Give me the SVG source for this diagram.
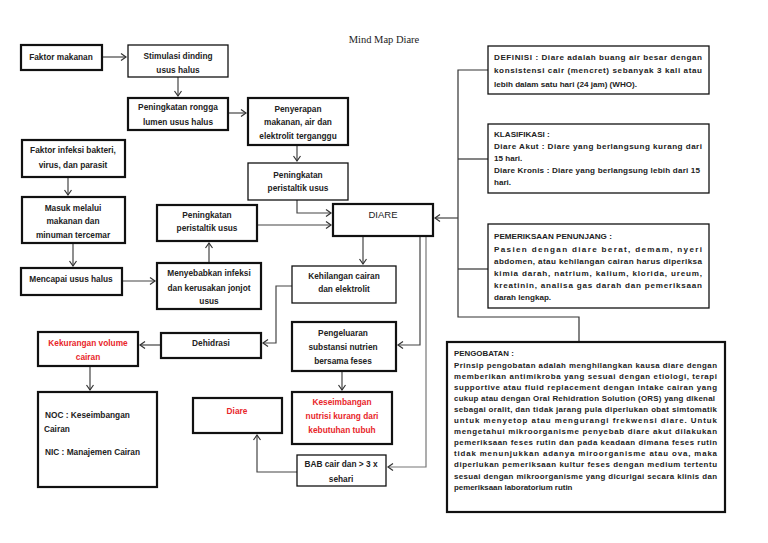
<svg xmlns="http://www.w3.org/2000/svg" width="768" height="543" viewBox="0 0 768 543">
<style>
.bx{fill:#fff;stroke:#111;stroke-width:1.3}
.tk{stroke-width:2.2}
.t{font-family:"Liberation Sans",Arial,sans-serif;font-size:8.3px;font-weight:bold;fill:#222;text-anchor:middle}
.r{fill:#e8262a}
.p{font-family:"Liberation Sans",Arial,sans-serif;font-size:8.1px;font-weight:bold;fill:#222}
.q{font-family:"Liberation Sans",Arial,sans-serif;font-size:7.9px;font-weight:bold;fill:#222}
.c{fill:none;stroke:#444;stroke-width:1.2;marker-end:url(#ah)}
.l{fill:none;stroke:#333;stroke-width:1.2}
</style>
<defs>
<marker id="ah" markerUnits="userSpaceOnUse" markerWidth="8" markerHeight="8" refX="6" refY="4" orient="auto">
<path d="M1,0.5 L6,4 L1,7.5" fill="none" stroke="#333" stroke-width="1.2"/>
</marker>
</defs>
<rect width="768" height="543" fill="#fff"/>
<text x="384" y="43" font-family="Liberation Serif,serif" font-size="10.5" text-anchor="middle" fill="#222">Mind Map Diare</text>

<g id="connectors">
<path class="c" d="M102,57 H126"/>
<path class="c" d="M178,77 V96"/>
<path class="c" d="M228,113 H246"/>
<path class="c" d="M297,145 V161"/>
<path class="c" d="M297,200 V213 H331"/>
<path class="c" d="M257,225 H331"/>
<path class="c" d="M68,177 V195"/>
<path class="c" d="M73,243 V266"/>
<path class="c" d="M122,281 H155"/>
<path class="c" d="M209,263 V243"/>
<path class="c" d="M363,236 V264"/>
<path class="c" d="M292,286 H276 V343 H263"/>
<path class="c" d="M161,345 H140"/>
<path class="c" d="M90,366 V390"/>
<path class="c" d="M420,236 V345 H398"/>
<path class="c" d="M426,236 V467 H388" style="stroke:#777"/>
<path class="c" d="M342,371 V390"/>
<path class="c" d="M297,472 H257 V435"/>
<path class="l" d="M488,70 H458 V317 H579 V342"/>
<path class="l" d="M458,159 H488"/>
<path class="l" d="M458,269 H488"/>
<path class="c" d="M458,218 H435"/>
</g>

<g id="faktor-makanan"><rect class="bx tk" x="21" y="45" width="81" height="25"/><text class="t" x="61" y="60">Faktor makanan</text></g>
<g id="stimulasi"><rect class="bx" x="128" y="45" width="100" height="32"/><text class="t" x="178" y="59">Stimulasi dinding</text><text class="t" x="178" y="73">usus halus</text></g>
<g id="rongga"><rect class="bx tk" x="128" y="98" width="100" height="32"/><text class="t" x="178" y="110">Peningkatan rongga</text><text class="t" x="178" y="125">lumen usus halus</text></g>
<g id="penyerapan"><rect class="bx tk" x="248" y="98" width="100" height="47"/><text class="t" x="298" y="112">Penyerapan</text><text class="t" x="298" y="125">makanan, air dan</text><text class="t" x="298" y="139">elektrolit terganggu</text></g>
<g id="peristaltik-kanan"><rect class="bx" x="248" y="163" width="100" height="37"/><text class="t" x="298" y="178">Peningkatan</text><text class="t" x="298" y="191">peristaltik usus</text></g>
<g id="faktor-infeksi"><rect class="bx tk" x="22" y="140" width="103" height="37"/><text class="t" x="73" y="153">Faktor infeksi bakteri,</text><text class="t" x="73" y="168">virus, dan parasit</text></g>
<g id="masuk"><rect class="bx tk" x="22" y="197" width="103" height="46"/><text class="t" x="73" y="211">Masuk melalui</text><text class="t" x="73" y="224">makanan dan</text><text class="t" x="73" y="238">minuman tercemar</text></g>
<g id="mencapai"><rect class="bx tk" x="21" y="268" width="101" height="27"/><text class="t" x="71" y="282">Mencapai usus halus</text></g>
<g id="menyebabkan"><rect class="bx tk" x="157" y="263" width="104" height="46"/><text class="t" x="209" y="276">Menyebabkan infeksi</text><text class="t" x="209" y="291">dan kerusakan jonjot</text><text class="t" x="209" y="304">usus</text></g>
<g id="peristaltik-kiri"><rect class="bx tk" x="157" y="205" width="100" height="36"/><text class="t" x="207" y="218">Peningkatan</text><text class="t" x="207" y="231">peristaltik usus</text></g>
<g id="diare"><rect class="bx tk" x="333" y="204" width="100" height="32"/><text class="t" x="383" y="218" style="font-weight:normal;font-size:9.5px">DIARE</text></g>
<g id="kehilangan"><rect class="bx" x="292" y="266" width="104" height="37"/><text class="t" x="344" y="279">Kehilangan cairan</text><text class="t" x="344" y="292">dan elektrolit</text></g>
<g id="dehidrasi"><rect class="bx tk" x="161" y="333" width="100" height="25"/><text class="t" x="211" y="346">Dehidrasi</text></g>
<g id="kekurangan"><rect class="bx tk" x="38" y="332" width="100" height="34"/><text class="t r" x="88" y="346">Kekurangan volume</text><text class="t r" x="88" y="360">cairan</text></g>
<g id="noc-nic"><rect class="bx tk" x="38" y="392" width="119" height="95"/><text class="t" x="45" y="418" style="text-anchor:start">NOC : Keseimbangan</text><text class="t" x="44" y="432" style="text-anchor:start">Cairan</text><text class="t" x="45" y="455" style="text-anchor:start">NIC : Manajemen Cairan</text></g>
<g id="diare-dx"><rect class="bx tk" x="193" y="398" width="89" height="35"/><text class="t r" x="237" y="414">Diare</text></g>
<g id="pengeluaran"><rect class="bx tk" x="292" y="322" width="104" height="49"/><text class="t" x="343" y="336">Pengeluaran</text><text class="t" x="343" y="350">substansi nutrien</text><text class="t" x="343" y="364">bersama feses</text></g>
<g id="keseimbangan"><rect class="bx tk" x="292" y="392" width="100" height="52"/><text class="t r" x="342" y="405">Keseimbangan</text><text class="t r" x="342" y="419">nutrisi kurang dari</text><text class="t r" x="342" y="433">kebutuhan tubuh</text></g>
<g id="bab"><rect class="bx" x="297" y="455" width="89" height="31"/><text class="t" x="341" y="467">BAB cair dan &gt; 3 x</text><text class="t" x="341" y="482">sehari</text></g>

<g id="definisi"><rect class="bx" x="488" y="46" width="221" height="48"/>
<text class="p" x="494" y="60" textLength="208" lengthAdjust="spacing">DEFINISI : Diare adalah buang air besar dengan</text>
<text class="p" x="494" y="73" textLength="208" lengthAdjust="spacing">konsistensi cair (mencret) sebanyak 3 kali atau</text>
<text class="p" x="494" y="87">lebih dalam satu hari (24 jam) (WHO).</text>
</g>
<g id="klasifikasi"><rect class="bx" x="488" y="124" width="221" height="69"/>
<text class="p" x="494" y="137">KLASIFIKASI :</text>
<text class="p" x="494" y="149" textLength="208" lengthAdjust="spacing">Diare Akut : Diare yang berlangsung kurang dari</text>
<text class="p" x="494" y="161">15 hari.</text>
<text class="p" x="494" y="173" textLength="206" lengthAdjust="spacing">Diare Kronis : Diare yang berlangsung lebih dari 15</text>
<text class="p" x="494" y="185">hari.</text>
</g>
<g id="pemeriksaan"><rect class="bx" x="488" y="224" width="221" height="84"/>
<text class="p" x="494" y="239">PEMERIKSAAN PENUNJANG :</text>
<text class="p" x="494" y="252" textLength="208" lengthAdjust="spacing">Pasien dengan diare berat, demam, nyeri</text>
<text class="p" x="494" y="264" textLength="208" lengthAdjust="spacing">abdomen, atau kehilangan cairan harus diperiksa</text>
<text class="p" x="494" y="276" textLength="208" lengthAdjust="spacing">kimia darah, natrium, kalium, klorida, ureum,</text>
<text class="p" x="494" y="288" textLength="208" lengthAdjust="spacing">kreatinin, analisa gas darah dan pemeriksaan</text>
<text class="p" x="494" y="300">darah lengkap.</text>
</g>
<g id="pengobatan"><rect class="bx tk" x="447" y="342" width="278" height="170"/>
<text class="q" x="454" y="356">PENGOBATAN :</text>
<text class="q" x="454" y="368" textLength="263" lengthAdjust="spacing">Prinsip pengobatan adalah menghilangkan kausa diare dengan</text>
<text class="q" x="454" y="379" textLength="263" lengthAdjust="spacing">memberikan antimikroba yang sesuai dengan etiologi, terapi</text>
<text class="q" x="454" y="390" textLength="263" lengthAdjust="spacing">supportive atau fluid replacement dengan intake cairan yang</text>
<text class="q" x="454" y="401" textLength="261" lengthAdjust="spacing">cukup atau dengan Oral Rehidration Solution (ORS) yang dikenal</text>
<text class="q" x="454" y="412" textLength="263" lengthAdjust="spacing">sebagai oralit, dan tidak jarang pula diperlukan obat simtomatik</text>
<text class="q" x="454" y="423" textLength="263" lengthAdjust="spacing">untuk menyetop atau mengurangi frekwensi diare. Untuk</text>
<text class="q" x="454" y="434" textLength="263" lengthAdjust="spacing">mengetahui mikroorganisme penyebab diare akut dilakukan</text>
<text class="q" x="454" y="445" textLength="263" lengthAdjust="spacing">pemeriksaan feses rutin dan pada keadaan dimana feses rutin</text>
<text class="q" x="454" y="456" textLength="263" lengthAdjust="spacing">tidak menunjukkan adanya miroorganisme atau ova, maka</text>
<text class="q" x="454" y="467" textLength="263" lengthAdjust="spacing">diperlukan pemeriksaan kultur feses dengan medium tertentu</text>
<text class="q" x="454" y="479" textLength="263" lengthAdjust="spacing">sesuai dengan mikroorganisme yang dicurigai secara klinis dan</text>
<text class="q" x="454" y="490">pemeriksaan laboratorium rutin</text>
</g>
</svg>
